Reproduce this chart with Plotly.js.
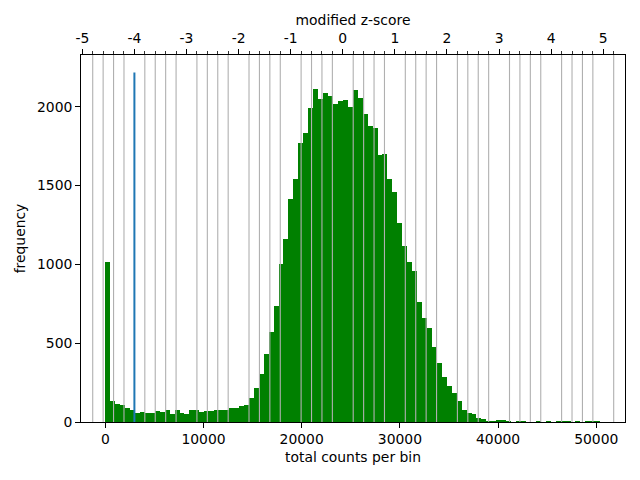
<!DOCTYPE html>
<html>
<head>
<meta charset="utf-8">
<script src="https://cdn.plot.ly/plotly-3.0.1.min.js"></script>
<style>html,body{margin:0;padding:0;background:#fff}</style>
</head>
<body>
<div id="chart" style="width:640px;height:480px"></div>
<script>
const binCounts = [1014,131,112,108,89,74,55,61,55,55,68,61,74,49,74,55,49,74,74,61,
  68,68,74,74,74,87,87,99,106,150,214,303,430,569,734,1001,1160,1414,1541,1769,
  1833,1991,2112,2049,2087,2068,2017,2036,2042,1998,2106,2055,1953,1877,1865,1693,1700,1541,1458,1261,
  1115,1014,957,760,658,595,474,372,286,226,182,131,74,55,49,23,17,5,5,10,
  10,5,0,5,5,0,0,5,0,5,0,5,5,5,0,5,0,5,5,5];
const binStart = 252;
const binWidth = 504;
const zTickVals = [-5,-4,-3,-2,-1,0,1,2,3,4,5];
const zTickText = ["-5","-4","-3","-2","-1","0","1","2","3","4","5"];
const zMinor = [-4.8,-4.6,-4.4,-4.2,-3.8,-3.6,-3.4,-3.2,-2.8,-2.6,-2.4,-2.2,-1.8,-1.6,-1.4,-1.2,
  -0.8,-0.6,-0.4,-0.2,0.2,0.4,0.6,0.8,1.2,1.4,1.6,1.8,2.2,2.4,2.6,2.8,3.2,3.4,3.6,3.8,4.2,4.4,4.6,4.8,5.2];
const yTicks = [0,500,1000,1500,2000];
const xTicks = [0,10000,20000,30000,40000,50000];
const yTop = 2328;
const cutoffZ = -4;
const cutoffHeight = 2217;

const gridX = [], gridY = [];
zMinor.forEach(z => { gridX.push(z, z, null); gridY.push(0, yTop, null); });

const font = {family: '"DejaVu Sans", sans-serif', size: 13.9, color: '#000'};
const axisBase = {showline: true, linecolor: '#000', linewidth: 1, ticks: 'outside', ticklen: 4.9,
  tickwidth: 1, tickcolor: '#000', showgrid: false, zeroline: false, tickfont: font};

Plotly.newPlot('chart', [
  {type: 'bar', x0: binStart, dx: binWidth, y: binCounts, width: binWidth,
   marker: {color: '#008000', line: {width: 0}}, xaxis: 'x', yaxis: 'y', hoverinfo: 'skip'},
  {type: 'scatter', mode: 'lines', x: gridX, y: gridY, xaxis: 'x2', yaxis: 'y',
   line: {color: '#b0b0b0', width: 1.1}, connectgaps: false, hoverinfo: 'skip'},
  {type: 'scatter', mode: 'lines', x: [cutoffZ, cutoffZ], y: [0, cutoffHeight], xaxis: 'x2', yaxis: 'y',
   line: {color: '#1f77b4', width: 2}, hoverinfo: 'skip'}
], {
  width: 640, height: 480, showlegend: false, bargap: 0,
  paper_bgcolor: '#fff', plot_bgcolor: '#fff',
  margin: {l: 81, r: 15, t: 55, b: 58, pad: 0},
  font: font,
  xaxis: Object.assign({}, axisBase, {range: [-2475, 52925], mirror: true, tickmode: 'array',
    tickvals: xTicks, ticktext: xTicks.map(String), ticklabelstandoff: -1,
    title: {text: 'total counts per bin', font: font, standoff: 6}, automargin: false}),
  xaxis2: Object.assign({}, axisBase, {range: [-5.025, 5.417], overlaying: 'x', side: 'top', anchor: 'y',
    tickmode: 'array', tickvals: zTickVals, ticktext: zTickText, ticklabelstandoff: 1,
    minor: {tickmode: 'array', tickvals: zMinor, ticks: 'outside', ticklen: 2.8, tickwidth: 0.8, tickcolor: '#000', showgrid: false},
    title: {text: 'modified z-score', font: font, standoff: 0}, automargin: false}),
  yaxis: Object.assign({}, axisBase, {range: [0, yTop], mirror: true, tickmode: 'array',
    tickvals: yTicks, ticktext: yTicks.map(String),
    title: {text: 'frequency', font: font, standoff: 8}, automargin: false})
}, {displayModeBar: false, staticPlot: true});
</script>
</body>
</html>
